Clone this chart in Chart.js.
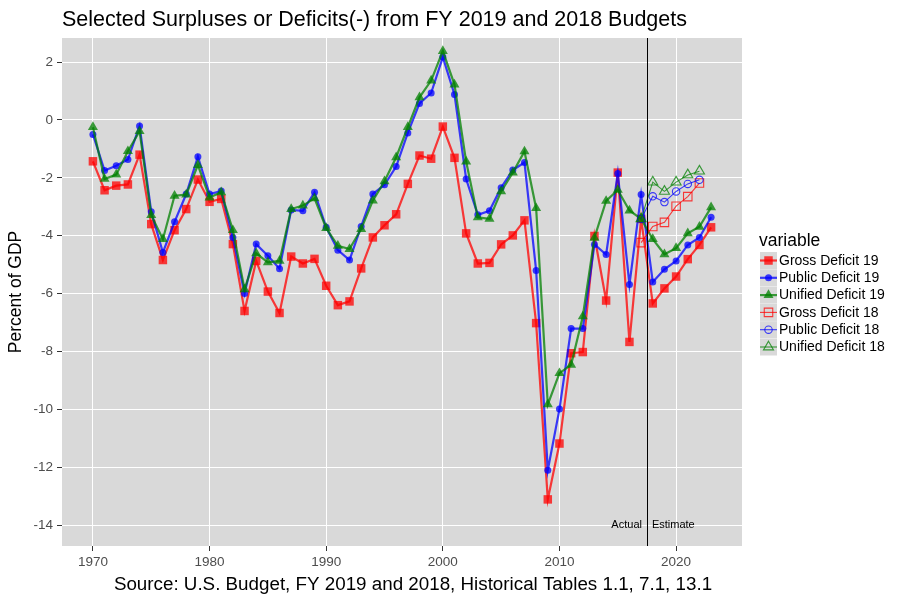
<!DOCTYPE html>
<html>
<head>
<meta charset="utf-8">
<script src="https://cdn.jsdelivr.net/npm/chart.js@4.4.1/dist/chart.umd.min.js"></script>
<style>
  body { margin: 0; background: #fff; }
  #wrap { width: 900px; height: 600px; }
</style>
</head>
<body>
<div id="wrap"><canvas id="deficitChart"></canvas></div>
<script>
// years 1970..2023 for the FY2019 series
const years19 = Array.from({ length: 54 }, (_, i) => 1970 + i);
const gross19 = [-1.43, -2.43, -2.27, -2.23, -1.20, -3.60, -4.84, -3.81, -3.08, -2.06,
  -2.83, -2.73, -4.29, -6.60, -4.87, -5.93, -6.67, -4.72, -4.96, -4.80,
  -5.73, -6.40, -6.27, -5.13, -4.06, -3.64, -3.26, -2.21, -1.23, -1.34,
  -0.23, -1.31, -3.92, -4.96, -4.94, -4.30, -3.99, -3.47, -7.02, -13.11,
  -11.18, -8.06, -8.02, -4.01, -6.24, -1.82, -7.67, -3.42, -6.34, -5.82,
  -5.41, -4.81, -4.32, -3.71];
const public19 = [-0.50, -1.75, -1.58, -1.37, -0.21, -3.17, -4.58, -3.52, -2.56, -1.27,
  -2.56, -2.46, -4.06, -6.00, -4.29, -4.69, -5.14, -3.11, -3.14, -2.50,
  -3.71, -4.50, -4.84, -3.68, -2.56, -2.24, -1.61, -0.45, 0.57, 0.93,
  2.17, 0.88, -2.04, -3.28, -3.14, -2.34, -1.73, -1.47, -5.20, -12.10,
  -9.99, -7.21, -7.21, -4.30, -4.65, -1.85, -5.69, -2.58, -5.60, -5.16,
  -4.87, -4.32, -4.06, -3.36];
const unified19 = [-0.25, -2.04, -1.89, -1.08, -0.39, -3.29, -4.12, -2.62, -2.58, -1.56,
  -2.68, -2.50, -3.81, -5.85, -4.61, -4.92, -4.87, -3.08, -2.96, -2.71,
  -3.74, -4.35, -4.46, -3.77, -2.79, -2.12, -1.29, -0.25, 0.78, 1.36,
  2.38, 1.22, -1.44, -3.37, -3.42, -2.47, -1.82, -1.09, -3.05, -9.83,
  -8.75, -8.46, -6.79, -4.07, -2.80, -2.42, -3.13, -3.42, -4.12, -4.64,
  -4.43, -3.92, -3.69, -3.02];

// FY2018 budget estimates
const years18 = [2017, 2018, 2019, 2020, 2021, 2022];
const gross18 = [-4.24, -3.68, -3.54, -2.98, -2.65, -2.18];
const public18 = [-3.42, -2.64, -2.84, -2.47, -2.21, -2.07];
const unified18 = [-3.42, -2.15, -2.47, -2.15, -1.90, -1.77];

const xTicks = [1970, 1980, 1990, 2000, 2010, 2020];
const yTicks = [-14, -12, -10, -8, -6, -4, -2, 0, 2];

const FONT = '"Liberation Sans", Arial, sans-serif';
Chart.defaults.font.family = FONT;

function pts(xs, ys) {
    return xs.map((x, i) => ({ x: x, y: ys[i] }));
}

const RED = 'rgba(255, 0, 0, 0.75)';
const BLUE = 'rgba(0, 0, 255, 0.75)';
const GREEN = 'rgba(0, 128, 0, 0.75)';

function series(label, xs, ys, color, style, radius, filled, order) {
    return {
        label: label,
        data: pts(xs, ys),
        borderColor: color,
        borderWidth: filled ? 2.2 : 1.1,
        pointStyle: style,
        pointRadius: radius,
        pointBackgroundColor: filled ? color : 'rgba(0,0,0,0)',
        pointBorderColor: color,
        pointBorderWidth: filled ? 0 : 1.1,
        tension: 0,
        fill: false,
        order: order
    };
}

const datasets = [
    series('Gross Deficit 19', years19, gross19, RED, 'rect', 6, true, 5),
    series('Public Deficit 19', years19, public19, BLUE, 'circle', 3.5, true, 4),
    series('Unified Deficit 19', years19, unified19, GREEN, 'triangle', 5.8, true, 3),
    series('Gross Deficit 18', years18, gross18, RED, 'rect', 6, false, 2),
    series('Public Deficit 18', years18, public18, BLUE, 'circle', 3.7, false, 1),
    series('Unified Deficit 18', years18, unified18, GREEN, 'triangle', 5.8, false, 0)
];

function drawMarker(ctx, style, x, y, r, color, filled) {
    ctx.beginPath();
    if (style === 'rect') {
        const s = r * Math.SQRT1_2;
        ctx.rect(x - s, y - s, 2 * s, 2 * s);
    } else if (style === 'circle') {
        ctx.arc(x, y, r, 0, Math.PI * 2);
    } else {
        for (let k = 0; k < 3; k++) {
            const a = k * 2 * Math.PI / 3;
            const px = x + Math.sin(a) * r, py = y - Math.cos(a) * r;
            if (k === 0) ctx.moveTo(px, py); else ctx.lineTo(px, py);
        }
        ctx.closePath();
    }
    if (filled) {
        ctx.fillStyle = color;
        ctx.fill();
    } else {
        ctx.strokeStyle = color;
        ctx.lineWidth = 1.1;
        ctx.stroke();
    }
}

const ggPlugin = {
    id: 'ggPlugin',
    beforeDraw(chart) {
        const { ctx, chartArea: a } = chart;
        ctx.save();
        ctx.fillStyle = '#d9d9d9';
        ctx.fillRect(a.left, a.top, a.right - a.left, a.bottom - a.top);
        ctx.restore();
    },
    afterDatasetsDraw(chart) {
        const { ctx, chartArea: a, scales } = chart;
        const xv = scales.x.getPixelForValue(2017.5);
        const yv = scales.y.getPixelForValue(-14);
        ctx.save();
        ctx.strokeStyle = '#000';
        ctx.lineWidth = 1;
        ctx.beginPath();
        ctx.moveTo(Math.round(xv) + 0.5, a.top);
        ctx.lineTo(Math.round(xv) + 0.5, a.bottom);
        ctx.stroke();
        ctx.fillStyle = '#000';
        ctx.font = '11px ' + FONT;
        ctx.textBaseline = 'middle';
        ctx.textAlign = 'right';
        ctx.fillText('Actual', xv - 5, yv);
        ctx.textAlign = 'left';
        ctx.fillText('Estimate', xv + 5, yv);
        ctx.restore();
    },
    afterDraw(chart) {
        const ctx = chart.ctx;
        ctx.save();
        // title
        ctx.fillStyle = '#000';
        ctx.font = '21.5px ' + FONT;
        ctx.textAlign = 'left';
        ctx.textBaseline = 'alphabetic';
        ctx.fillText('Selected Surpluses or Deficits(-) from FY 2019 and 2018 Budgets', 62, 26);

        // x-axis caption (source line)
        ctx.font = '18.8px ' + FONT;
        ctx.textAlign = 'center';
        ctx.fillText('Source: U.S. Budget, FY 2019 and 2018, Historical Tables 1.1, 7.1, 13.1', 413, 590);

        // legend
        ctx.textAlign = 'left';
        ctx.font = '17.5px ' + FONT;
        ctx.fillText('variable', 759, 246);
        ctx.font = '14px ' + FONT;
        ctx.textBaseline = 'middle';
        chart.data.datasets.forEach((ds, i) => {
            const top = 252 + i * 17.3;
            const cy = top + 8.5;
            ctx.fillStyle = '#d9d9d9';
            ctx.fillRect(760, top, 17, 17);
            ctx.strokeStyle = ds.borderColor;
            ctx.lineWidth = ds.borderWidth;
            ctx.beginPath();
            ctx.moveTo(760, cy);
            ctx.lineTo(777, cy);
            ctx.stroke();
            const filled = ds.pointBorderWidth === 0;
            drawMarker(ctx, ds.pointStyle, 768.5, cy, ds.pointRadius, ds.borderColor, filled);
            ctx.fillStyle = '#000';
            ctx.fillText(ds.label, 779, cy + 0.5);
        });
        ctx.restore();
    }
};

new Chart(document.getElementById('deficitChart'), {
    type: 'line',
    data: { datasets: datasets },
    options: {
        responsive: true,
        maintainAspectRatio: false,
        animation: false,
        events: [],
        layout: { padding: { top: 38, right: 158, bottom: 0, left: 0 } },
        plugins: {
            legend: { display: false },
            tooltip: { enabled: false },
            title: { display: false }
        },
        scales: {
            x: {
                type: 'linear',
                min: 1967.35,
                max: 2025.65,
                afterBuildTicks: s => { s.ticks = xTicks.map(v => ({ value: v })); },
                afterFit: s => { s.height = 54; },
                grid: { color: '#fff', lineWidth: 1, tickColor: '#333', tickLength: 5 },
                border: { display: false },
                ticks: { color: '#4d4d4d', font: { size: 13.5 }, padding: 3, maxRotation: 0,
                    callback: v => String(v) }
            },
            y: {
                min: -14.72,
                max: 2.83,
                afterBuildTicks: s => { s.ticks = yTicks.map(v => ({ value: v })); },
                afterFit: s => { s.width = 62; },
                grid: { color: '#fff', lineWidth: 1, tickColor: '#333', tickLength: 5 },
                border: { display: false },
                ticks: { color: '#4d4d4d', font: { size: 13.5 }, padding: 4,
                    callback: v => String(v) },
                title: { display: true, text: 'Percent of GDP', color: '#000',
                    font: { size: 17.5 }, padding: { top: 6, bottom: 0 } }
            }
        }
    },
    plugins: [ggPlugin]
});
</script>
</body>
</html>
